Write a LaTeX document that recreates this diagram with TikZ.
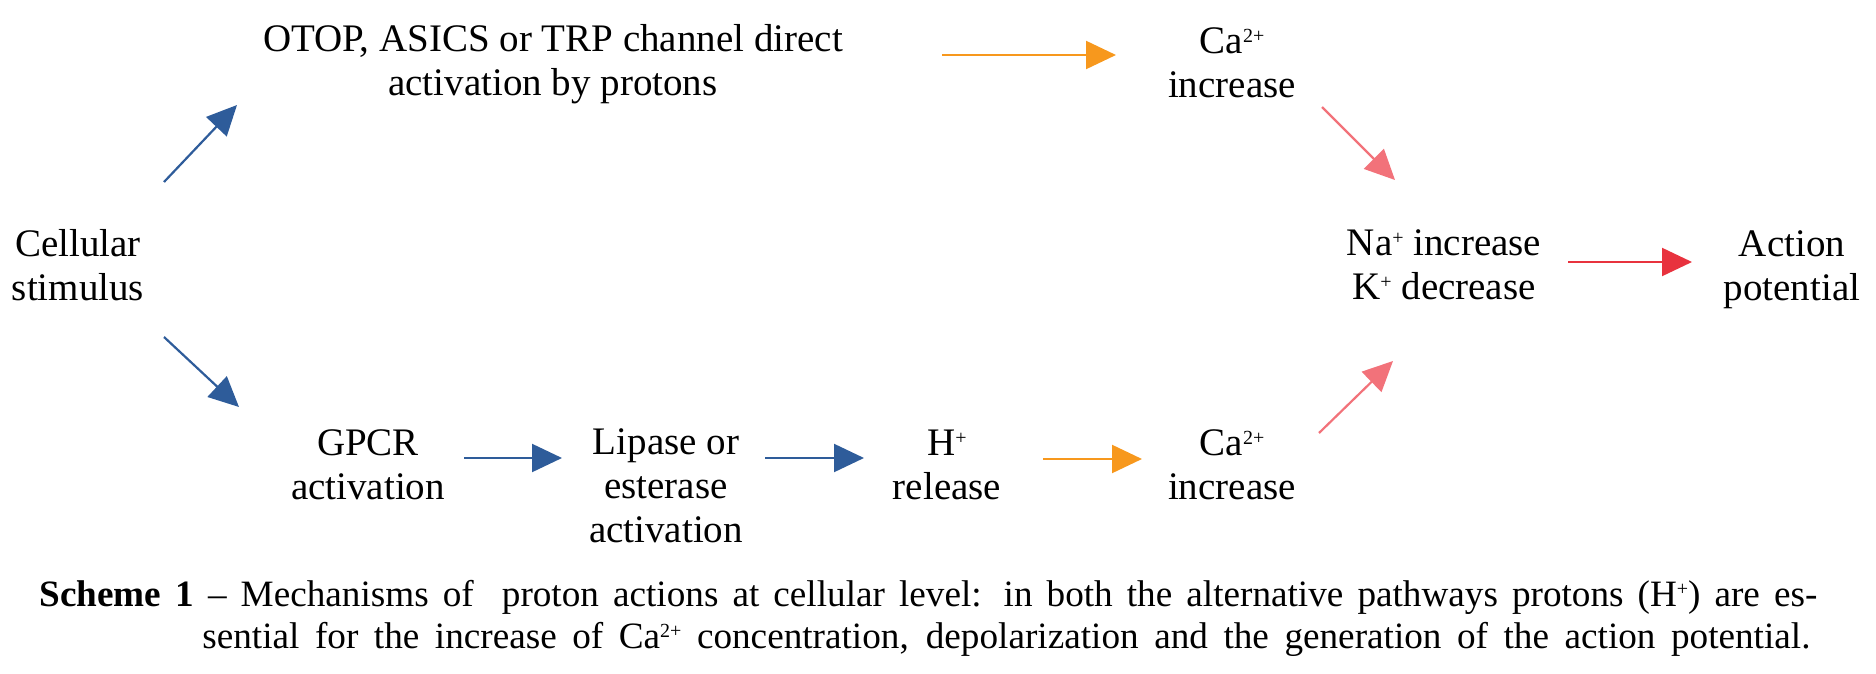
\documentclass[tikz,border=0pt]{standalone}
\usepackage{fontspec}
\setmainfont{Liberation Serif}
\usetikzlibrary{arrows.meta}
\definecolor{cblue}{HTML}{2E5C9A}
\definecolor{corange}{HTML}{F7981D}
\definecolor{cpink}{HTML}{F2727A}
\definecolor{cred}{HTML}{E8323E}
\newcommand\supx[1]{\raisebox{5.5pt}{\fontsize{10pt}{10pt}\selectfont #1}}
\begin{document}
\begin{tikzpicture}[x=0.5pt,y=-0.5pt,
  lbl/.style={align=center,inner sep=0pt,font=\fontsize{19.5pt}{22pt}\selectfont},
  arr/.style={line width=1.1pt,-{Triangle[length=15pt,width=14pt]}},
  capt/.style={anchor=base west,inner sep=0pt,font=\fontsize{18.6pt}{21pt}\selectfont}]
\useasboundingbox (0,0) rectangle (1876,674);
% nodes
\node[lbl] (stim) at (78,265) {Cellular\\stimulus};
\node[lbl] (otop) at (553,64) {OTOP, ASICS or TRP channel direct\\activation by protons};
\node[lbl] (ca1) at (1232,63) {Ca\supx{2+}\\increase};
\node[lbl] (na) at (1444,265) {Na\supx{+} increase\\K\supx{+} decrease};
\node[lbl] (ap) at (1792,270) {Action\\potential};
\node[lbl] (gpcr) at (368,465) {GPCR\\activation};
\node[lbl] (lip) at (666,486) {Lipase or\\esterase\\activation};
\node[lbl] (hrel) at (947,465) {H\supx{+}\\release};
\node[lbl] (ca2) at (1232,465) {Ca\supx{2+}\\increase};
% arrow end points
\coordinate (a1s) at (164,182); \coordinate (a1e) at (237,105);
\coordinate (a2s) at (164,337); \coordinate (a2e) at (239,407);
\coordinate (a3s) at (464,458); \coordinate (a3e) at (562,458);
\coordinate (a4s) at (765,458); \coordinate (a4e) at (864,458);
\coordinate (a5s) at (1043,459); \coordinate (a5e) at (1142,459);
\coordinate (a6s) at (942,55); \coordinate (a6e) at (1116,55);
\coordinate (a7s) at (1322,107); \coordinate (a7e) at (1395,180);
\coordinate (a8s) at (1319,433); \coordinate (a8e) at (1393,361);
\coordinate (a9s) at (1568,262); \coordinate (a9e) at (1692,262);
% arrows
\draw[arr,cblue] (a1s) -- (a1e);
\draw[arr,cblue] (a2s) -- (a2e);
\draw[arr,cblue] (a3s) -- (a3e);
\draw[arr,cblue] (a4s) -- (a4e);
\draw[arr,corange] (a5s) -- (a5e);
\draw[arr,corange] (a6s) -- (a6e);
\draw[arr,cpink] (a7s) -- (a7e);
\draw[arr,cpink] (a8s) -- (a8e);
\draw[arr,cred] (a9s) -- (a9e);
% caption
\node[capt] (cap1) at (39,606) {\makebox[889pt][s]{\textbf{Scheme 1} – Mechanisms of \ proton actions at cellular level: in both the alternative pathways protons (H\supx{+}) are es-}};
\node[capt] (cap2) at (202,648) {\makebox[804pt][s]{sential for the increase of Ca\supx{2+} concentration, depolarization and the generation of the action potential.}};
\end{tikzpicture}
\end{document}
